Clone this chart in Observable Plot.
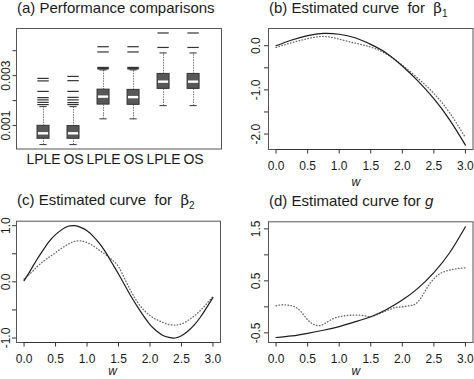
<!DOCTYPE html>
<html><head><meta charset="utf-8">
<script src="https://cdn.jsdelivr.net/npm/d3@7"></script>
<script src="https://cdn.jsdelivr.net/npm/@observablehq/plot@0.6"></script>
<style>
body{margin:0;background:#fff;}
#root{position:relative;width:474px;height:379px;overflow:hidden;font-family:"Liberation Sans",Arial,sans-serif;color:#1a1a1a;background:#fff;}
.panel{position:absolute;}
.title{position:absolute;font-size:15px;line-height:16px;white-space:pre;}
.beta{font-family:"DejaVu Serif","Liberation Serif",serif;font-size:15px;}
.sub{font-size:10px;position:relative;top:4px;}
</style></head><body><div id="root">
<div class="title" style="left:17px;top:0px;">(a) Performance comparisons</div>
<div class="title" style="left:269px;top:0px;">(b) Estimated curve  for  <span class="beta">β</span><span class="sub">1</span></div>
<div class="title" style="left:17px;top:192px;">(c) Estimated curve  for  <span class="beta">β</span><span class="sub">2</span></div>
<div class="title" style="left:269px;top:193px;">(d) Estimated curve for <i>g</i></div>
</div>
<script>
// ---------- data: panel (a) boxplots ----------
const categories = ["LPLE","OS","LPLE","OS","LPLE","OS"];
const lowerWhisker = [0.00024,0.00024,0.00127,0.00127,0.0018,0.0018];
const q1Values = [0.00047,0.00047,0.00184,0.00183,0.00247,0.00247];
const medianValues = [0.00069,0.00069,0.00216,0.00214,0.00276,0.00276];
const q3Values = [0.00099,0.00098,0.00244,0.00243,0.00307,0.00307];
const upperWhisker = [0.00176,0.00176,0.00323,0.00323,0.00391,0.00391];
const outlierValues = [
  [0.00184,0.00193,0.00203,0.00212,0.00237,0.00279,0.00289],
  [0.00184,0.00192,0.00203,0.00213,0.00237,0.0028,0.00297],
  [0.00327,0.00329,0.00333,0.00395,0.00416],
  [0.00327,0.00329,0.00333,0.00395,0.00416],
  [0.00413,0.00471],
  [0.00413,0.00471]
];
const aYTicks = [0.001,0.002,0.003,0.004];
const aYLabels = [0.001,0.003];

// ---------- data: curves ----------
const wQuarter = [0,0.25,0.5,0.75,1,1.25,1.5,1.75,2,2.25,2.5,2.75,3];
const wTenth = [0,0.1,0.2,0.3,0.4,0.5,0.6,0.7,0.8,0.9,1.0,1.1,1.2,1.3,1.4,1.5,1.6,1.7,1.8,1.9,2.0,2.1,2.2,2.3,2.4,2.5,2.6,2.7,2.8,2.9,3.0];
const xTicks = [0,0.5,1,1.5,2,2.5,3];

// (b) beta1
const beta1True = [0,0.13,0.23,0.28,0.26,0.18,0.03,-0.17,-0.46,-0.8,-1.2,-1.68,-2.25];
const beta1Est = [-0.04,0.07,0.16,0.21,0.15,0.06,-0.03,-0.19,-0.44,-0.74,-1.08,-1.52,-2.08];
const bYTicks = [-2,-1.5,-1,-0.5,0];
const bYLabels = [-2,-1,0];

// (c) beta2
const beta2True = [0.02,0.20,0.39,0.56,0.72,0.84,0.93,0.99,1.00,0.97,0.91,0.81,0.68,0.52,0.33,0.14,-0.06,-0.26,-0.44,-0.61,-0.76,-0.87,-0.95,-0.99,-1.00,-0.96,-0.88,-0.77,-0.63,-0.46,-0.28];
const beta2Est = [0.05,0.15,0.26,0.36,0.44,0.52,0.60,0.67,0.72,0.73,0.70,0.64,0.56,0.48,0.39,0.27,0.05,-0.17,-0.36,-0.50,-0.60,-0.67,-0.72,-0.76,-0.77,-0.75,-0.69,-0.61,-0.51,-0.39,-0.26];
const cYTicks = [-1,-0.5,0,0.5,1];
const cYLabels = [-1,0,1];

// (d) g
const gTrue = [-0.59,-0.56,-0.51,-0.45,-0.38,-0.29,-0.19,-0.05,0.13,0.36,0.66,1.04,1.54];
const gEst = [0.02,0.04,0.03,0.0,-0.1,-0.25,-0.34,-0.36,-0.3,-0.23,-0.19,-0.17,-0.16,-0.16,-0.17,-0.19,-0.15,-0.1,-0.05,-0.01,0.0,0.02,0.05,0.18,0.38,0.54,0.64,0.69,0.72,0.74,0.75];
const dYTicks = [-0.5,0,0.5,1,1.5];
const dYLabels = [-0.5,0.5,1.5];

// ---------- rendering ----------
const root = document.getElementById("root");
const FONT = "Liberation Sans, Arial, sans-serif";
const NARROW = "Liberation Sans Narrow, Arial Narrow, Liberation Sans, sans-serif";
const INK = "#1a1a1a";
const FRAME = "#555";
const fmt1 = d => d.toFixed(1);
const baseStyle = {fontFamily: FONT, fontSize: "12px", color: INK, background: "transparent", overflow: "visible"};

function place(svg, left, top) {
  const div = document.createElement("div");
  div.className = "panel";
  div.style.left = left + "px";
  div.style.top = top + "px";
  div.appendChild(svg);
  root.appendChild(div);
}

function curvePanel({height, marginTop, marginBottom, marginLeft, marginRight, yDomain, yTicks, yLabels, wTrue, vTrue, wEst, vEst, wDx, wDy, labelDx}) {
  return Plot.plot({
    width: 237, height, marginTop, marginBottom, marginLeft, marginRight,
    style: baseStyle,
    x: {domain: [-0.12, 3.12], axis: null},
    y: {domain: yDomain, axis: null},
    marks: [
      Plot.frame({stroke: FRAME}),
      Plot.ruleY([yDomain[0]], {x1: xTicks[0], x2: xTicks[xTicks.length - 1], stroke: "#333"}),
      Plot.axisX(xTicks, {tickSize: 4.5, tickPadding: 7, tickFormat: fmt1, label: null, stroke: "#333", fill: INK, fontSize: 12}),
      Plot.axisY(yTicks, {tickSize: 4, tickFormat: () => "", label: null, stroke: "#333"}),
      Plot.text(yLabels, {y: d => d, text: d => fmt1(d), frameAnchor: "left", dx: labelDx, rotate: -90, textAnchor: "middle", lineAnchor: "middle", fill: INK, fontSize: 12}),
      Plot.line(wEst, {x: d => d, y: (d, i) => vEst[i], curve: "natural", stroke: "#666", strokeWidth: 1.3, strokeDasharray: "0.6,2.4", strokeLinecap: "round"}),
      Plot.line(wTrue, {x: d => d, y: (d, i) => vTrue[i], curve: "natural", stroke: "#1c1c1c", strokeWidth: 1.2}),
      Plot.text(["w"], {text: d => d, frameAnchor: "bottom", dx: wDx, dy: wDy, lineAnchor: "middle", fontStyle: "italic", fill: INK, fontSize: 12})
    ]
  });
}

// panel (a)
const boxPos = [1,2,3,4,5,6];
const boxes = categories.map((c, i) => ({pos: boxPos[i], lo: lowerWhisker[i], q1: q1Values[i], med: medianValues[i], q3: q3Values[i], hi: upperWhisker[i]}));
const outs = outlierValues.flatMap((arr, i) => arr.map(v => ({pos: boxPos[i], v})));
const BOX_HALF = 0.2, CAP_HALF = 0.12, OUT_HALF = 0.19;

const panelA = Plot.plot({
  width: 237, height: 190, marginTop: 28, marginBottom: 41.5, marginLeft: 16, marginRight: 16,
  style: baseStyle,
  x: {domain: [0.1, 6.93], axis: null},
  y: {domain: [0.000061, 0.00489], axis: null},
  marks: [
    Plot.frame({stroke: FRAME}),
    Plot.ruleX(boxes, {x: "pos", y1: "lo", y2: "q1", stroke: "#777", strokeWidth: 1.1, strokeDasharray: "0.6,2", strokeLinecap: "round"}),
    Plot.ruleX(boxes, {x: "pos", y1: "q3", y2: "hi", stroke: "#777", strokeWidth: 1.1, strokeDasharray: "0.6,2", strokeLinecap: "round"}),
    Plot.ruleY(boxes, {y: "lo", x1: d => d.pos - CAP_HALF, x2: d => d.pos + CAP_HALF, stroke: "#444", strokeWidth: 1.1}),
    Plot.ruleY(boxes, {y: "hi", x1: d => d.pos - CAP_HALF, x2: d => d.pos + CAP_HALF, stroke: "#444", strokeWidth: 1.1}),
    Plot.rect(boxes, {x1: d => d.pos - BOX_HALF, x2: d => d.pos + BOX_HALF, y1: "q1", y2: "q3", fill: "#585858", stroke: "#333"}),
    Plot.ruleY(boxes, {y: "med", x1: d => d.pos - BOX_HALF + 0.03, x2: d => d.pos + BOX_HALF - 0.03, stroke: "#fff", strokeWidth: 2.4}),
    Plot.ruleY(outs, {y: "v", x1: d => d.pos - OUT_HALF, x2: d => d.pos + OUT_HALF, stroke: "#333", strokeWidth: 1.2}),
    Plot.axisY(aYTicks, {tickSize: 3.5, tickFormat: () => "", label: null, stroke: "#333"}),
    Plot.text(aYLabels, {y: d => d, text: d => d.toFixed(3), frameAnchor: "left", dx: -10, rotate: -90, textAnchor: "middle", lineAnchor: "middle", fill: INK, fontFamily: NARROW, fontSize: 12}),
    Plot.text(categories, {x: (d, i) => boxPos[i], text: d => d, frameAnchor: "bottom", dy: 11, lineAnchor: "middle", fill: INK, fontFamily: NARROW, fontSize: 14})
  ]
});
place(panelA, 0, 0);

place(curvePanel({height: 190, marginTop: 28, marginBottom: 41, marginLeft: 31, marginRight: 1.5,
  yDomain: [-2.35, 0.39], yTicks: bYTicks, yLabels: bYLabels,
  wTrue: wQuarter, vTrue: beta1True, wEst: wQuarter, vEst: beta1Est, wDx: -15, wDy: 33, labelDx: -12}), 237, 0);

place(curvePanel({height: 189, marginTop: 30.7, marginBottom: 37, marginLeft: 16, marginRight: 17,
  yDomain: [-1.08, 1.08], yTicks: cYTicks, yLabels: cYLabels,
  wTrue: wTenth, vTrue: beta2True, wEst: wTenth, vEst: beta2Est, wDx: -6, wDy: 29, labelDx: -10}), 0, 190);

place(curvePanel({height: 189, marginTop: 31.3, marginBottom: 37, marginLeft: 31, marginRight: 1.5,
  yDomain: [-0.686, 1.636], yTicks: dYTicks, yLabels: dYLabels,
  wTrue: wQuarter, vTrue: gTrue, wEst: wTenth, vEst: gEst, wDx: -15, wDy: 29, labelDx: -12}), 237, 190);
</script>
</body></html>
